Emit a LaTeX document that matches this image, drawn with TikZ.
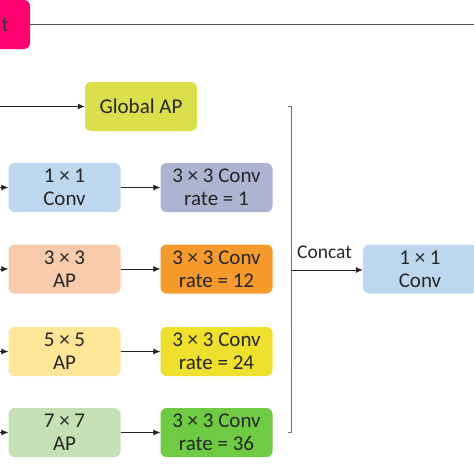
\documentclass[tikz,border=0pt]{standalone}
\usepackage{fontspec}
\setmainfont{Carlito}
\usetikzlibrary{arrows.meta}
\definecolor{cpink}{HTML}{FF006E}
\definecolor{cgap}{HTML}{DCDF4C}
\definecolor{cblue}{HTML}{BDD7EE}
\definecolor{clav}{HTML}{AEB3D2}
\definecolor{cpeach}{HTML}{F8CBAD}
\definecolor{corange}{HTML}{F79A2E}
\definecolor{cpyel}{HTML}{FFE699}
\definecolor{cyel}{HTML}{F0E02E}
\definecolor{cpgreen}{HTML}{C5E0B4}
\definecolor{cgreen}{HTML}{6FCB43}
\definecolor{cline}{HTML}{555555}
\tikzset{
  x=1pt, y=-1pt,
  blk/.style={rounded corners=6pt, minimum width=112pt, minimum height=49pt,
    align=center, font=\fontsize{21}{23}\selectfont, text=black!85, inner sep=0pt},
  arr/.style={-{Latex[length=7pt,width=6pt]}, line width=0.8pt, draw=black!85},
  plain/.style={line width=0.8pt, draw=cline}
}
\begin{document}
\begin{tikzpicture}
\useasboundingbox (0,0) rectangle (474,474);
% input box (partially visible)
\fill[cpink, rounded corners=6pt] (-40,0) rectangle (30,49);
\node[font=\fontsize{21}{23}\selectfont, text=black!80, anchor=east, inner sep=0pt] (inp) at (9,25) {t};
\coordinate (inR) at (30,24.5);
\coordinate (topR) at (474,24.5);
\draw[plain] (inR) -- (topR);
% global AP
\node[blk, fill=cgap, minimum width=112pt] (gap) at (141,106.5) {Global AP};
\coordinate (gapL) at (0,106.5);
\draw[arr] (gapL) -- (gap.west);
% rows
\node[blk, fill=cblue] (a1) at (64.5,187.5) {1 × 1\\Conv};
\node[blk, fill=clav] (b1) at (216.5,187.5) {3 × 3 Conv\\rate = 1};
\node[blk, fill=cpeach] (a2) at (64.5,269) {3 × 3\\AP};
\node[blk, fill=corange] (b2) at (216.5,269) {3 × 3 Conv\\rate = 12};
\node[blk, fill=cpyel] (a3) at (64.5,351.5) {5 × 5\\AP};
\node[blk, fill=cyel] (b3) at (216.5,351.5) {3 × 3 Conv\\rate = 24};
\node[blk, fill=cpgreen] (a4) at (64.5,432.5) {7 × 7\\AP};
\node[blk, fill=cgreen] (b4) at (216.5,432.5) {3 × 3 Conv\\rate = 36};
\foreach \i/\y in {1/187.5,2/269,3/351.5,4/432.5}{
  \coordinate (l\i) at (0,\y);
  \draw[arr] (l\i) -- (a\i.west);
  \draw[arr] (a\i.east) -- (b\i.west);
}
% concat bracket
\coordinate (bt) at (291,106.5);
\coordinate (bb) at (291,432);
\draw[plain, draw=gray!90!black] (288,106.5) -- (bt) -- (bb) -- (288,432);
% final conv
\node[blk, fill=cblue, minimum width=114pt] (fin) at (420,269) {1 × 1\\Conv};
\coordinate (cc) at (291,270);
\draw[arr] (cc) -- (fin.west |- cc);
\node[font=\fontsize{19.5}{20}\selectfont, text=black!85, anchor=south west, inner sep=0pt] (cl) at (297,259) {Concat};
\end{tikzpicture}
\end{document}
